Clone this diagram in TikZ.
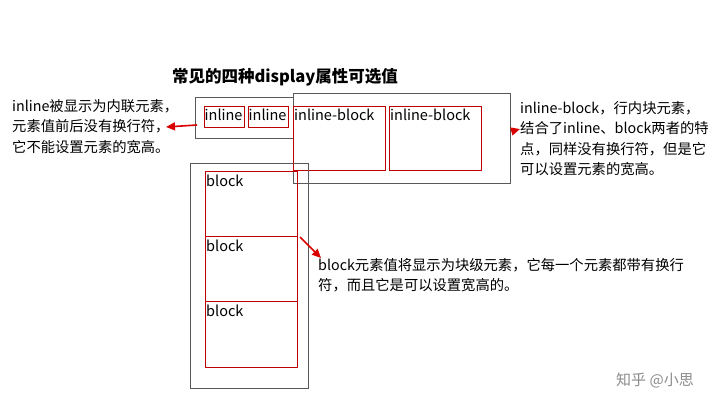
\documentclass[tikz,border=0pt]{standalone}
\usepackage{fontspec}
\setmainfont{Noto Sans CJK SC}
\usetikzlibrary{arrows.meta}
\begin{document}
\begin{tikzpicture}[x=1pt,y=-1pt,
  outer/.style={draw=black!65,line width=0.8pt},
  inner/.style={draw=red!75!black,line width=0.7pt},
  lbl/.style={anchor=north west,inner sep=1pt,font=\fontsize{14.5}{16}\selectfont},
  txt/.style={anchor=north west,inner sep=0pt,align=left,font=\fontsize{14.3}{20.5}\selectfont},
  arr/.style={-{Triangle[length=9pt,width=8pt]},draw=red!85!black,fill=red!85!black,line width=1.6pt}]
\useasboundingbox[fill=white] (0,0) rectangle (720,412);
\node[font=\bfseries\fontsize{16.5}{18}\selectfont] (title) at (285,77) {常见的四种display属性可选值};
% inline
\draw[outer] (195,97) rectangle (293,138);
\draw[inner] (204,106) rectangle (244,127);
\draw[inner] (248,106) rectangle (288,127);
\node[lbl,inner sep=0.5pt] (i1) at (204,108) {inline};
\node[lbl,inner sep=0.5pt] (i2) at (248,108) {inline};
\coordinate (ia) at (197,125);
% inline-block
\draw[outer] (293,93) rectangle (510,183);
\draw[inner] (293,106) rectangle (385,170);
\draw[inner] (389,106) rectangle (481,170);
\node[lbl] (ib1) at (293,108) {inline-block};
\node[lbl] (ib2) at (389,108) {inline-block};
\coordinate (iba) at (513,131);
% block
\draw[outer] (190,163) rectangle (308,388);
\draw[inner] (205,171) rectangle (297,236);
\draw[inner] (205,236) rectangle (297,301);
\draw[inner] (205,301) rectangle (297,367);
\node[lbl] (b1) at (205,174) {block};
\node[lbl] (b2) at (205,239) {block};
\node[lbl] (b3) at (205,304) {block};
\coordinate (ba) at (300,237);
% texts
\node[txt] (tl) at (12,99) {inline被显示为内联元素，\\元素值前后没有换行符，\\它不能设置元素的宽高。};
\node[txt] (tr) at (520,101) {inline-block，行内块元素，\\结合了inline、block两者的特\\点，同样没有换行符，但是它\\可以设置元素的宽高。};
\node[txt] (tb) at (318,258) {block元素值将显示为块级元素，它每一个元素都带有换行\\符，而且它是可以设置宽高的。};
\draw[arr] (ia) -- (166,127);
\draw[arr] (iba) -- (tr.west|-0,129);
\draw[arr] (ba) -- (321,258);
\node[font=\fontsize{15}{17}\selectfont,text=black!45] (wm) at (655,380) {知乎 @小思};
\end{tikzpicture}
\end{document}
